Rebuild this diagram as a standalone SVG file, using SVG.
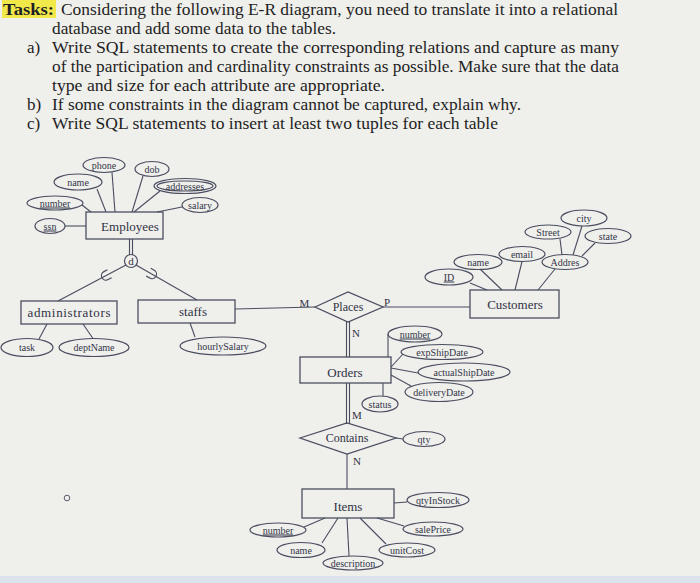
<svg xmlns="http://www.w3.org/2000/svg" width="700" height="583" viewBox="0 0 700 583">
<defs>
<style>
.bg{fill:#efefeb}
.t{font-family:"Liberation Serif",serif;font-size:17px;fill:#1e1e24}
.ent rect{fill:none;stroke:#4a4d60;stroke-width:1.3}
.ent text{font-family:"Liberation Serif",serif;font-size:13px;fill:#2f3245;text-anchor:middle}
.rel polygon{fill:none;stroke:#4a4d60;stroke-width:1.3}
.rel text{font-family:"Liberation Serif",serif;font-size:12px;fill:#2f3245;text-anchor:middle}
.attr ellipse{fill:none;stroke:#4a4d60;stroke-width:1.2}
.attr text{font-family:"Liberation Serif",serif;font-size:10px;fill:#33364a;text-anchor:middle}
.key text{text-decoration:underline}
.conn line{stroke:#4a4d60;stroke-width:1.1}
.card{font-family:"Liberation Serif",serif;font-size:11px;fill:#2f3245;text-anchor:middle}
</style>
<path id="sub" d="M4,-4.5 H0 A4.5 4.5 0 0 0 0 4.5 H4" fill="none" stroke="#4a4d60" stroke-width="1.2"/>
</defs>
<rect class="bg" x="0" y="0" width="700" height="583"/>
<rect x="0" y="576" width="700" height="7" fill="#dde3ec"/>

<g id="task-text">
<rect x="2" y="0" width="54" height="18" fill="#f1e84a"/>
<text class="t" x="3" y="14.5" textLength="51" lengthAdjust="spacingAndGlyphs" font-weight="bold">Tasks:</text>
<text class="t" x="61" y="14.5" textLength="557" lengthAdjust="spacingAndGlyphs">Considering the following E-R diagram, you need to translate it into a relational</text>
<text class="t" x="52" y="34" textLength="284" lengthAdjust="spacingAndGlyphs">database and add some data to the tables.</text>
<text class="t" x="27" y="53">a)</text>
<text class="t" x="52" y="53" textLength="567" lengthAdjust="spacingAndGlyphs">Write SQL statements to create the corresponding relations and capture as many</text>
<text class="t" x="52" y="72" textLength="567" lengthAdjust="spacingAndGlyphs">of the participation and cardinality constraints as possible. Make sure that the data</text>
<text class="t" x="52" y="91" textLength="333" lengthAdjust="spacingAndGlyphs">type and size for each attribute are appropriate.</text>
<text class="t" x="27" y="110">b)</text>
<text class="t" x="52" y="110" textLength="469" lengthAdjust="spacingAndGlyphs">If some constraints in the diagram cannot be captured, explain why.</text>
<text class="t" x="27" y="129">c)</text>
<text class="t" x="52" y="129" textLength="446" lengthAdjust="spacingAndGlyphs">Write SQL statements to insert at least two tuples for each table</text>
</g>

<g id="connectors" class="conn">
<line x1="65" y1="226" x2="86" y2="226"/>
<line x1="82" y1="205" x2="91" y2="212"/>
<line x1="97" y1="189" x2="106" y2="212"/>
<line x1="112" y1="172.5" x2="115" y2="212"/>
<line x1="143" y1="176" x2="132" y2="212"/>
<line x1="160" y1="191" x2="134" y2="212"/>
<line x1="182" y1="207" x2="157" y2="212"/>
<line x1="129.5" y1="239" x2="129.5" y2="255"/>
<line x1="132.5" y1="239" x2="132.5" y2="255"/>
<line x1="126" y1="265" x2="58" y2="301"/>
<line x1="136" y1="265" x2="197" y2="300"/>
<use href="#sub" transform="translate(106,275.6) rotate(-27.9)"/>
<use href="#sub" transform="translate(152,274.2) rotate(209.9)"/>
<line x1="47" y1="324" x2="39" y2="339"/>
<line x1="83" y1="324" x2="93" y2="338.5"/>
<line x1="190" y1="323" x2="195" y2="337"/>
<line x1="235" y1="309" x2="315" y2="307"/>
<line x1="383" y1="307" x2="470" y2="307"/>
<line x1="346.5" y1="321" x2="346.5" y2="357"/>
<line x1="349.5" y1="321" x2="349.5" y2="357"/>
<line x1="346.5" y1="383" x2="346.5" y2="424"/>
<line x1="349.5" y1="383" x2="349.5" y2="424"/>
<line x1="388" y1="334" x2="388" y2="357"/>
<line x1="403" y1="354" x2="391" y2="367"/>
<line x1="391" y1="368" x2="418" y2="373"/>
<line x1="391" y1="375" x2="411" y2="386"/>
<line x1="383" y1="383" x2="383" y2="396"/>
<line x1="396" y1="438" x2="403" y2="439"/>
<line x1="347" y1="454" x2="347" y2="489"/>
<line x1="394" y1="503" x2="407" y2="502"/>
<line x1="377" y1="518" x2="404" y2="526"/>
<line x1="360" y1="518" x2="386" y2="544"/>
<line x1="347" y1="518" x2="349" y2="556"/>
<line x1="338" y1="518" x2="322" y2="543"/>
<line x1="325" y1="518" x2="304" y2="527"/>
<line x1="470" y1="283" x2="487" y2="290"/>
<line x1="480" y1="269" x2="502" y2="290"/>
<line x1="522" y1="261.5" x2="515" y2="290"/>
<line x1="555" y1="269" x2="538" y2="290"/>
<line x1="560" y1="239" x2="562" y2="255"/>
<line x1="582" y1="226" x2="573" y2="255"/>
<line x1="595" y1="243" x2="582" y2="256"/>
</g>

<g id="employees" class="ent"><rect x="86" y="212" width="77" height="27"/><text x="130" y="230.5" font-size="14">Employees</text></g>
<g id="emp-ssn" class="attr key"><ellipse cx="50" cy="226" rx="15" ry="7.5"/><text x="50" y="229.5">ssn</text></g>
<g id="emp-number" class="attr key"><ellipse cx="55" cy="203" rx="28" ry="7"/><text x="55" y="206.5">number</text></g>
<g id="emp-name" class="attr"><ellipse cx="78" cy="182" rx="24" ry="8"/><text x="78" y="185.5">name</text></g>
<g id="emp-phone" class="attr"><ellipse cx="104" cy="165" rx="21" ry="7.5"/><text x="104" y="168.5">phone</text></g>
<g id="emp-dob" class="attr"><ellipse cx="152" cy="169" rx="17" ry="7.5"/><text x="152" y="172.5">dob</text></g>
<g id="emp-addresses" class="attr"><ellipse cx="185" cy="186" rx="31" ry="7.5"/><ellipse cx="185" cy="186" rx="28" ry="5"/><text x="185" y="189.5">addresses</text></g>
<g id="emp-salary" class="attr"><ellipse cx="200" cy="205" rx="18" ry="7.5"/><text x="200" y="208.5">salary</text></g>

<g id="isa-d"><circle cx="131" cy="261" r="6.5" fill="none" stroke="#4a4d60" stroke-width="1.2"/><text class="card" x="131" y="264.5">d</text></g>

<g id="administrators" class="ent"><rect x="21" y="301" width="96" height="23"/><text x="69" y="317" textLength="83" font-size="14">administrators</text></g>
<g id="adm-task" class="attr"><ellipse cx="27" cy="347.5" rx="26" ry="9"/><text x="27" y="351">task</text></g>
<g id="adm-deptName" class="attr"><ellipse cx="94" cy="347.5" rx="35" ry="9"/><text x="94" y="351">deptName</text></g>

<g id="staffs" class="ent"><rect x="138" y="300" width="97" height="23"/><text x="193" y="316" font-size="12">staffs</text></g>
<g id="stf-hourlySalary" class="attr"><ellipse cx="223" cy="346" rx="43" ry="9"/><text x="223" y="349.5">hourlySalary</text></g>

<g id="places" class="rel"><polygon points="315,307 348,292 383,307 348,322"/><text x="348" y="311">Places</text></g>
<text class="card" x="304.5" y="306.5">M</text>
<text class="card" x="387" y="305.5">P</text>
<text class="card" x="356" y="337">N</text>

<g id="orders" class="ent"><rect x="300" y="357" width="91" height="26"/><text x="345" y="377">Orders</text></g>
<g id="ord-number" class="attr key"><ellipse cx="415" cy="334" rx="27" ry="8"/><text x="415" y="337.5">number</text></g>
<g id="ord-expShipDate" class="attr"><ellipse cx="442" cy="352" rx="41" ry="7.5"/><text x="442" y="355.5">expShipDate</text></g>
<g id="ord-actualShipDate" class="attr"><ellipse cx="464" cy="372" rx="46" ry="9"/><text x="464" y="375.5">actualShipDate</text></g>
<g id="ord-deliveryDate" class="attr"><ellipse cx="439" cy="392" rx="34" ry="9.5"/><text x="439" y="395.5">deliveryDate</text></g>
<g id="ord-status" class="attr"><ellipse cx="380" cy="404" rx="18" ry="8"/><text x="380" y="407.5">status</text></g>

<text class="card" x="357" y="419">M</text>
<g id="contains" class="rel"><polygon points="300,438 347,423 396,438 347,454"/><text x="347" y="442" font-size="11.5">Contains</text></g>
<g id="con-qty" class="attr"><ellipse cx="424" cy="439" rx="21" ry="7.5"/><text x="424" y="442.5">qty</text></g>
<text class="card" x="357" y="465">N</text>

<g id="items" class="ent"><rect x="302" y="489" width="92" height="29"/><text x="348" y="511">Items</text></g>
<g id="itm-qtyInStock" class="attr"><ellipse cx="438" cy="500" rx="31" ry="7.5"/><text x="438" y="503.5">qtyInStock</text></g>
<g id="itm-salePrice" class="attr"><ellipse cx="433" cy="529" rx="30" ry="7"/><text x="433" y="532.5">salePrice</text></g>
<g id="itm-unitCost" class="attr"><ellipse cx="407" cy="550" rx="28" ry="7"/><text x="407" y="553.5">unitCost</text></g>
<g id="itm-description" class="attr"><ellipse cx="353" cy="563" rx="30" ry="7"/><text x="353" y="566.5">description</text></g>
<g id="itm-name" class="attr"><ellipse cx="301" cy="550" rx="24" ry="7.5"/><text x="301" y="553.5">name</text></g>
<g id="itm-number" class="attr key"><ellipse cx="278" cy="530" rx="28" ry="7"/><text x="278" y="533.5">number</text></g>

<g id="customers" class="ent"><rect x="470" y="290" width="89" height="28"/><text x="515" y="308.5">Customers</text></g>
<g id="cus-ID" class="attr key"><ellipse cx="449" cy="277" rx="24" ry="8"/><text x="449" y="280.5">ID</text></g>
<g id="cus-name" class="attr"><ellipse cx="478" cy="262" rx="24" ry="7.5"/><text x="478" y="265.5">name</text></g>
<g id="cus-email" class="attr"><ellipse cx="522" cy="254" rx="23" ry="7.5"/><text x="522" y="257.5">email</text></g>
<g id="cus-Addres" class="attr"><ellipse cx="565" cy="262" rx="23" ry="7.5"/><text x="565" y="265.5">Addres</text></g>
<g id="cus-Street" class="attr"><ellipse cx="548" cy="232" rx="23" ry="7"/><text x="548" y="235.5">Street</text></g>
<g id="cus-city" class="attr"><ellipse cx="584" cy="218" rx="23" ry="8"/><text x="584" y="221.5">city</text></g>
<g id="cus-state" class="attr"><ellipse cx="608" cy="236" rx="23" ry="7.5"/><text x="608" y="239.5">state</text></g>

<circle cx="67" cy="498" r="2.8" fill="none" stroke="#5a5d6e" stroke-width="1"/>
</svg>
